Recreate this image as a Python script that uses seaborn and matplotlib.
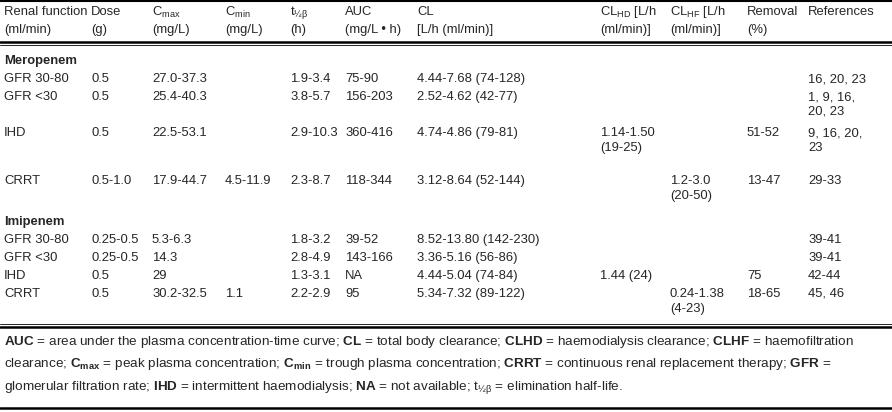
import matplotlib
matplotlib.use("Agg")
import matplotlib.pyplot as plt
import seaborn as sns

sns.set_theme(style="white")
plt.rcParams['font.family'] = ['Liberation Sans', 'DejaVu Sans']
plt.rcParams['mathtext.fontset'] = 'custom'
plt.rcParams['mathtext.rm'] = 'Liberation Sans'
plt.rcParams['mathtext.bf'] = 'Liberation Sans:bold'

headers = [["Renal function", "(ml/min)"], ["Dose", "(g)"],
           [r"C$_{\mathregular{max}}$", "(mg/L)"], [r"C$_{\mathregular{min}}$", "(mg/L)"],
           [r"t$_{\mathregular{½β}}$", "(h)"], ["AUC", "(mg/L • h)"],
           ["CL", "[L/h (ml/min)]"], [r"CL$_{\mathregular{HD}}$ [L/h", "(ml/min)]"],
           [r"CL$_{\mathregular{HF}}$ [L/h", "(ml/min)]"], ["Removal", "(%)"], ["References", ""]]

groups = ["Meropenem", "Imipenem"]
mero_rows = [
    ["GFR 30-80", "0.5", "27.0-37.3", "", "1.9-3.4", "75-90", "4.44-7.68 (74-128)", "", "", "", "16, 20, 23"],
    ["GFR <30", "0.5", "25.4-40.3", "", "3.8-5.7", "156-203", "2.52-4.62 (42-77)", "", "", "", "1, 9, 16,\n20, 23"],
    ["IHD", "0.5", "22.5-53.1", "", "2.9-10.3", "360-416", "4.74-4.86 (79-81)", "1.14-1.50\n(19-25)", "", "51-52", "9, 16, 20,\n23"],
    ["CRRT", "0.5-1.0", "17.9-44.7", "4.5-11.9", "2.3-8.7", "118-344", "3.12-8.64 (52-144)", "", "1.2-3.0\n(20-50)", "13-47", "29-33"],
]
imi_rows = [
    ["GFR 30-80", "0.25-0.5", "5.3-6.3", "", "1.8-3.2", "39-52", "8.52-13.80 (142-230)", "", "", "", "39-41"],
    ["GFR <30", "0.25-0.5", "14.3", "", "2.8-4.9", "143-166", "3.36-5.16 (56-86)", "", "", "", "39-41"],
    ["IHD", "0.5", "29", "", "1.3-3.1", "NA", "4.44-5.04 (74-84)", "1.44 (24)", "", "75", "42-44"],
    ["CRRT", "0.5", "30.2-32.5", "1.1", "2.2-2.9", "95", "5.34-7.32 (89-122)", "", "0.24-1.38\n(4-23)", "18-65", "45, 46"],
]
footnote = [
    r"$\mathbf{AUC}$ = area under the plasma concentration-time curve; $\mathbf{CL}$ = total body clearance; $\mathbf{CLHD}$ = haemodialysis clearance; $\mathbf{CLHF}$ = haemofiltration",
    r"clearance; $\mathbf{C_{max}}$ = peak plasma concentration; $\mathbf{C_{min}}$ = trough plasma concentration; $\mathbf{CRRT}$ = continuous renal replacement therapy; $\mathbf{GFR}$ =",
    r"glomerular filtration rate; $\mathbf{IHD}$ = intermittent haemodialysis; $\mathbf{NA}$ = not available; t$_{\mathregular{½β}}$ = elimination half-life.",
]

colx = [4, 91, 152, 225, 290, 345, 417, 600, 670, 747, 808]
fs = 9.4

fig = plt.figure(figsize=(8.92, 4.12), dpi=100)
ax = fig.add_axes([0, 0, 1, 1])
ax.set_xlim(0, 892)
ax.set_ylim(412, 0)
ax.axis("off")

for x, (a, b) in zip(colx, headers):
    ax.text(x, 12, a, fontsize=fs, va="center")
    ax.text(x, 30, b, fontsize=fs, va="center")

ax.plot([0, 892], [1, 1], color="black", lw=1.5)
ax.plot([0, 892], [42, 42], color="black", lw=1.8)
ax.plot([0, 892], [45, 45], color="black", lw=0.6)

def draw_group(y0, name, rows, ys):
    ax.text(4, y0, name, fontsize=fs, fontweight="bold", va="center")
    for y, row in zip(ys, rows):
        for x, cell in zip(colx, row):
            if cell:
                ax.text(x, y, cell, fontsize=fs, va="top", linespacing=1.3)

draw_group(61, groups[0], mero_rows, [73, 91, 127, 175])
draw_group(222, groups[1], imi_rows, [234, 252, 270, 288])

ax.plot([0, 892], [324, 324], color="black", lw=0.6)
ax.plot([0, 892], [327, 327], color="black", lw=1.8)
for i, line in enumerate(footnote):
    ax.text(4, 342 + 22.5 * i, line, fontsize=9.7, va="center")
ax.plot([0, 892], [408, 408], color="black", lw=1.8)

fig.savefig("out.png", dpi=100)
